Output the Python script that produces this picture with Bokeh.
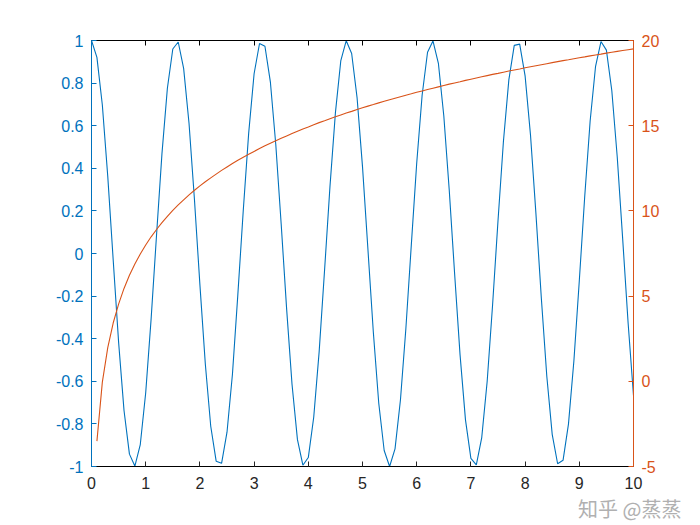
from bokeh.plotting import figure
from bokeh.models import Range1d, LinearAxis, FixedTicker, Title
from bokeh.embed import file_html
from bokeh.resources import INLINE

# left series: x = 0:0.1:10
x_left = [round(0.1 * i, 1) for i in range(101)]
y_left = [1.000, 0.921, 0.697, 0.362, -0.029, -0.416, -0.737, -0.942, -0.998, -0.897,
          -0.654, -0.307, 0.087, 0.469, 0.776, 0.960, 0.993, 0.869, 0.609, 0.251,
          -0.146, -0.519, -0.811, -0.975, -0.985, -0.839, -0.568, -0.193, 0.202, 0.565,
          0.844, 0.986, 0.973, 0.806, 0.512, 0.137, -0.260, -0.615, -0.874, -0.994,
          -0.958, -0.769, -0.462, -0.079, 0.315, 0.660, 0.906, 0.999, 0.939, 0.731,
          0.408, 0.020, -0.370, -0.703, -0.925, -1.000, -0.917, -0.688, -0.353, 0.038,
          0.424, 0.743, 0.945, 0.998, 0.893, 0.647, 0.299, -0.096, -0.476, -0.781,
          -0.962, -0.992, -0.864, -0.601, -0.242, 0.154, 0.526, 0.815, 0.977, 0.983,
          0.834, 0.555, 0.186, -0.211, -0.575, -0.849, -0.987, -0.971, -0.801, -0.505,
          -0.128, 0.268, 0.622, 0.879, 0.995, 0.955, 0.764, 0.453, 0.070, -0.324,
          -0.667]

# right series: x = 0.1:0.1:10
x_right = [round(0.1 * i, 1) for i in range(1, 101)]
y_right = [-3.51, -0.05, 1.98, 3.42, 4.53, 5.45, 6.22, 6.88, 7.47, 8.00,
           8.48, 8.91, 9.31, 9.68, 10.03, 10.35, 10.65, 10.94, 11.21, 11.47,
           11.71, 11.94, 12.16, 12.38, 12.58, 12.78, 12.97, 13.15, 13.32, 13.49,
           13.66, 13.82, 13.97, 14.12, 14.26, 14.40, 14.54, 14.68, 14.81, 14.93,
           15.06, 15.18, 15.29, 15.41, 15.52, 15.63, 15.74, 15.84, 15.95, 16.05,
           16.15, 16.24, 16.34, 16.43, 16.52, 16.61, 16.70, 16.79, 16.87, 16.96,
           17.04, 17.12, 17.20, 17.28, 17.36, 17.44, 17.51, 17.58, 17.66, 17.73,
           17.80, 17.87, 17.94, 18.01, 18.07, 18.14, 18.21, 18.27, 18.33, 18.40,
           18.46, 18.52, 18.58, 18.64, 18.70, 18.76, 18.82, 18.87, 18.93, 18.99,
           19.04, 19.10, 19.15, 19.20, 19.26, 19.31, 19.36, 19.41, 19.46, 19.51]

x_ticks = [0, 1, 2, 3, 4, 5, 6, 7, 8, 9, 10]
left_ticks = [-1, -0.8, -0.6, -0.4, -0.2, 0, 0.2, 0.4, 0.6, 0.8, 1]
left_labels = ["-1", "-0.8", "-0.6", "-0.4", "-0.2", "0", "0.2", "0.4", "0.6", "0.8", "1"]
right_ticks = [-5, 0, 5, 10, 15, 20]
right_labels = ["-5", "0", "5", "10", "15", "20"]
watermark = "知乎 @蒸蒸"

BLUE = "#0072BD"
ORANGE = "#D95319"
FONT = "Liberation Sans"
FS = "16px"

p = figure(width=692, height=522, output_backend="svg", toolbar_location=None,
           x_range=Range1d(0, 10), y_range=Range1d(-1, 1),
           min_border_left=91, min_border_right=59, min_border_top=40, min_border_bottom=50)
p.extra_y_ranges = {"right": Range1d(-5, 20)}
p.grid.visible = False
p.outline_line_color = None
p.background_fill_color = "white"
p.border_fill_color = "white"

p.line(x_left, y_left, line_color=BLUE, line_width=1.1)
p.line(x_right, y_right, line_color=ORANGE, line_width=1.1, y_range_name="right")

def style(ax, color):
    ax.axis_line_color = color
    ax.major_tick_line_color = color
    ax.major_tick_in = 5
    ax.major_tick_out = 0
    ax.minor_tick_line_color = None
    ax.major_label_text_color = color
    ax.major_label_text_font = FONT
    ax.major_label_text_font_size = FS
    ax.major_label_standoff = 8

xa = p.xaxis[0]
xa.ticker = FixedTicker(ticks=x_ticks)
style(xa, "#262626")
xa.axis_line_color = "black"
xa.major_label_standoff = 10

ya = p.yaxis[0]
ya.ticker = FixedTicker(ticks=left_ticks)
ya.major_label_overrides = dict(zip(left_ticks, left_labels))
style(ya, BLUE)

ra = LinearAxis(y_range_name="right", ticker=FixedTicker(ticks=right_ticks))
ra.major_label_overrides = dict(zip(right_ticks, right_labels))
style(ra, ORANGE)
p.add_layout(ra, "right")

ta = LinearAxis(ticker=FixedTicker(ticks=x_ticks))
style(ta, "black")
ta.major_label_overrides = {t: "" for t in x_ticks}
ta.major_label_standoff = 0
p.add_layout(ta, "above")

wm = Title(text=watermark, align="right", text_font="Noto Sans CJK SC",
           text_font_size="20px", text_font_style="normal", text_color="#b0b0b0",
           standoff=0, offset=-48)
p.add_layout(wm, "below")

open("out.html", "w").write(file_html(p, INLINE))
